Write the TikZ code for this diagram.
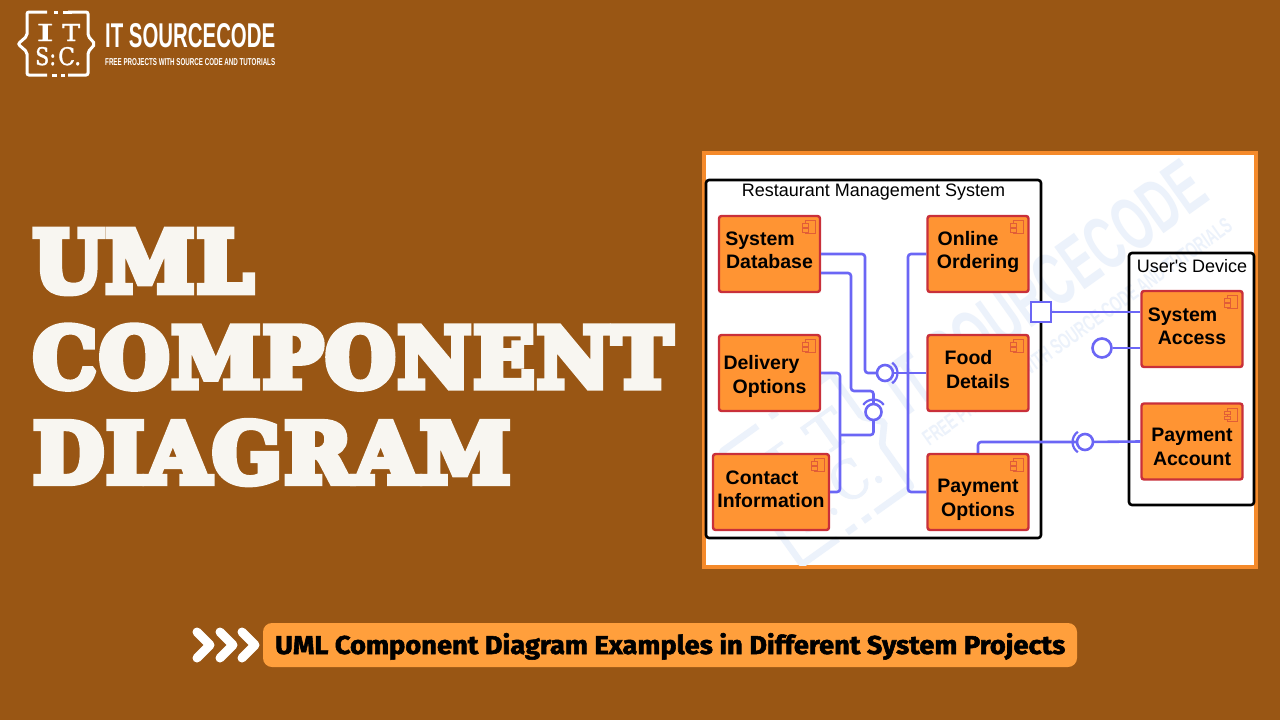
\documentclass[tikz,border=0pt]{standalone}
\usepackage{fontspec}
\usepackage{graphicx}
\setmainfont{Liberation Sans}
\newfontfamily\plainfont{Liberation Sans}
\newfontfamily\slabfont[FakeBold=9,LetterSpace=3]{DejaVu Serif Bold}
\newfontfamily\logoslab[FakeBold=1.5]{DejaVu Serif}
\newfontfamily\pillfont[FakeBold=2]{Fira Sans Bold}
\newfontfamily\logofont{Liberation Sans Bold}
\definecolor{bgbrown}{HTML}{995614}
\definecolor{titlewhite}{HTML}{F8F6F1}
\definecolor{frameorange}{HTML}{F58A2A}
\definecolor{comporange}{HTML}{FF9433}
\definecolor{compred}{HTML}{C9303A}
\definecolor{wire}{HTML}{6B66F5}
\definecolor{pill}{HTML}{FF9F3C}
\definecolor{wmark}{HTML}{ECF2FB}
\newcommand{\fitto}[3]{\resizebox{#1pt}{#2pt}{#3}}
\newcommand{\twolines}[2]{\strut #1\\\strut #2}
\newcommand{\squarejoin}{\special{pdf:code 0 j 1.5 M}}
\tikzset{
  comp/.style={draw=compred,fill=comporange,line width=2.4pt,rounded corners=2.5pt,inner sep=0pt,
    minimum height=76pt},
  wide/.style={minimum width=101pt},
  lab/.style={inner sep=0pt,align=center,font=\fontsize{19.5}{23.5}\selectfont\bfseries},
  container/.style={draw=black,line width=2.6pt,rounded corners=3pt},
  link/.style={draw=wire,line width=2.6pt,rounded corners=3pt},
  ball/.style={circle,draw=wire,line width=2.6pt,fill=white,minimum size=#1pt,inner sep=0pt},
  cup/.style={draw=wire,line width=2.2pt},
  icon/.style={draw=compred!55!comporange,line width=.8pt},
  chev/.style={draw=white,line width=9pt,line cap=round,line join=round},
  title/.style={anchor=base west,text=titlewhite,inner sep=0pt},
}
\newcommand{\compicon}[1]{%
  \draw[icon] ([xshift=-16pt,yshift=-6pt]#1.north east) rectangle ([xshift=-6pt,yshift=-19pt]#1.north east);
  \draw[icon,fill=comporange] ([xshift=-19pt,yshift=-9pt]#1.north east) rectangle ([xshift=-13pt,yshift=-12.5pt]#1.north east);
  \draw[icon,fill=comporange] ([xshift=-19pt,yshift=-14pt]#1.north east) rectangle ([xshift=-13pt,yshift=-17.5pt]#1.north east);
}
% #1 colour, #2 line width, #3 name prefix
\newcommand{\brandmark}[3]{%
  \begin{scope}[every node/.style={anchor=base west,inner sep=0pt,text=#1,transform shape},
      lg/.style={draw=#1,line width=#2,rounded corners=2pt}]
  \draw[lg] (47,12) -- (27,12) -- (27,36) -- (18,44) -- (27,52) -- (27,75) -- (47,75);
  \draw[lg] (68,12) -- (88,12) -- (88,36) -- (95,44) -- (88,52) -- (88,75) -- (68,75);
  \draw[lg] (54,12) -- (58,12) (63,12) -- (72,12) (52,75) -- (57,75) (61,75) -- (65,75);
  \node (#3I) at (36,41) {\logoslab\fitto{18}{17}{I}};
  \node (#3T) at (62,41) {\logoslab\fitto{18}{17}{T}};
  \node (#3S) at (35,65) {\logoslab\fitto{21}{18}{S:}};
  \node (#3C) at (58,65) {\logoslab\fitto{23}{18}{C.}};
  \node (#3brand) at (105,48) {\logofont\fitto{170}{24}{IT SOURCECODE}};
  \node (#3tag) at (105,65) {\logofont\fitto{170}{7}{FREE PROJECTS WITH SOURCE CODE AND TUTORIALS}};
  \end{scope}
}
\begin{document}
\begin{tikzpicture}[x=1pt,y=-1pt]
\useasboundingbox (0,0) rectangle (1280,720);
\fill[bgbrown] (0,0) rectangle (1280,720);
% logo
\brandmark{white}{3pt}{logo}
% title
\node[title] (t1) at (33,291.5) {\slabfont\fitto{220}{61}{\squarejoin UML}};
\node[title] (t2) at (33,387) {\slabfont\fitto{639}{61}{\squarejoin COMPONENT}};
\node[title] (t3) at (33,482.5) {\slabfont\fitto{477}{61}{\squarejoin DIAGRAM}};
% bottom strip
\draw[chev] (197,632) -- (210,645) -- (197,658);
\draw[chev] (220,632) -- (233,645) -- (220,658);
\draw[chev] (242,632) -- (255,645) -- (242,658);
\fill[pill,rounded corners=9pt] (263,623) rectangle (1077,667);
\node[title,text=black] (strip) at (275,654) {\pillfont\fitto{790}{21}{UML Component Diagram Examples in Different System Projects}};
% image panel
\draw[frameorange,fill=white,line width=3.5pt] (704,153) rectangle (1256,567);
% watermark
\begin{scope}
\clip (706,155) rectangle (1254,565);
\begin{scope}[shift={(658,464.6)},rotate=35.5,scale=2.2]
\brandmark{wmark}{6.6pt}{wm}
\end{scope}
\end{scope}
% containers
\draw[container] (706,180) rectangle (1041,538);
\draw[container] (1129,253) rectangle (1254,505);
\node[inner sep=0pt,font=\fontsize{18}{20}\selectfont\plainfont] (rms) at (873.5,192.5) {Restaurant Management System};
\node[inner sep=0pt,font=\fontsize{18}{20}\selectfont\plainfont] (dev) at (1192,266) {User's Device};
% components
\node[comp,wide] (db) at (769.5,254) {};
\node[comp,wide] (online) at (978,254) {};
\node[comp,wide] (deliv) at (769.5,373) {};
\node[comp,wide] (food) at (978,373) {};
\node[comp,minimum width=116pt] (contact) at (771,492) {};
\node[comp,wide] (pay) at (978,492) {};
\node[comp,wide] (access) at (1192,329) {};
\node[comp,wide] (account) at (1192,441.5) {};
\node[lab] (dbT) at (769.5,252.5) {\twolines{System\hspace*{19pt}}{Database}};
\node[lab] (onlineT) at (978,252.5) {\twolines{Online\hspace*{20pt}}{Ordering}};
\node[lab] (delivT) at (769.5,377) {\twolines{Delivery\hspace*{16pt}}{Options}};
\node[lab] (foodT) at (978,372) {\twolines{Food\hspace*{19pt}}{Details}};
\node[lab] (contactT) at (771,491.3) {\twolines{Contact\hspace*{18pt}}{Information}};
\node[lab] (payT) at (978,499.7) {\twolines{Payment}{Options}};
\node[lab] (accessT) at (1192,328.3) {\twolines{System\hspace*{19pt}}{Access}};
\node[lab] (accountT) at (1192,449) {\twolines{Payment}{Account}};
\foreach \n in {db,online,deliv,food,contact,pay,access,account} {\compicon{\n}}
% interface symbols
\coordinate (busA) at (865,373);
\coordinate (busB) at (851,391);
\coordinate (busC) at (873.5,391);
\coordinate (busD) at (908,373);
\coordinate (busE) at (840,435);
\draw[link] (db.east) -| (busA) -- (885,373);
\draw[link] ([yshift=-19pt]db.east) -| (busB) -- (busC) -- (873.5,412);
\draw[link] (online.west) -| (busD) |- (pay.west);
\draw[link] (food.west) -- (885,373);
\draw[link] (deliv.east) -| (busE) |- (contact.east);
\draw[link] (873.5,412) |- (busE);
\draw[link] (pay.north) |- (1085,442);
\draw[link] (1085,442) -- (account.west);
\node[ball=20,rectangle] (port) at (1041,312) {};
\node[ball=19] (lolli) at (1102,348) {};
\node[ball=16] (s1) at (885,373) {};
\node[ball=16] (s2) at (873.5,412) {};
\node[ball=16] (s3) at (1085,442) {};
\draw[link] (port.east) -- (access.west |- port.east);
\draw[link] (lolli.east) -- (access.west |- lolli.east);
\draw[cup] ([shift={(-55:12.5pt)}]s1.center) arc[start angle=-55,end angle=55,radius=12.5pt];
\draw[cup] ([shift={(35:12.5pt)}]s2.center) arc[start angle=35,end angle=145,radius=12.5pt];
\draw[cup] ([shift={(125:12.5pt)}]s3.center) arc[start angle=125,end angle=235,radius=12.5pt];
\end{tikzpicture}
\end{document}
